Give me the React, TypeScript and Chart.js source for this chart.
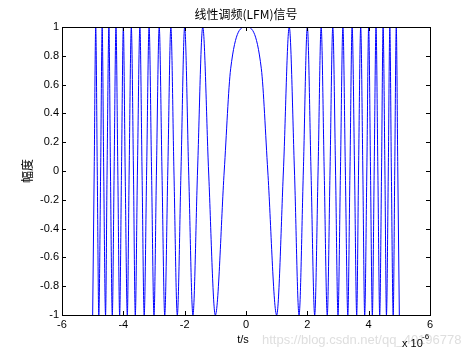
import React, { useEffect, useRef } from "react";
import { Chart, registerables } from "chart.js";

Chart.register(...registerables);

// time in units of 1e-6 s : extrema, zero crossings and a few shoulder points
const timeUs: number[] = [
  -5, -4.95, -4.9, -4.85, -4.8, -4.74, -4.69, -4.64, -4.58, -4.53,
  -4.47, -4.42, -4.36, -4.3, -4.24, -4.18, -4.12, -4.06, -4, -3.94,
  -3.87, -3.81, -3.74, -3.67, -3.61, -3.54, -3.46, -3.39, -3.32, -3.24,
  -3.16, -3.08, -3, -2.92, -2.83, -2.74, -2.65, -2.55, -2.45, -2.35,
  -2.24, -2.12, -2, -1.87, -1.73, -1.58, -1.41, -1.22, -1, -0.71,
  -0.5, 0, 0.5,
  0.71, 1, 1.22, 1.41, 1.58, 1.73, 1.87, 2, 2.12, 2.24,
  2.35, 2.45, 2.55, 2.65, 2.74, 2.83, 2.92, 3, 3.08, 3.16,
  3.24, 3.32, 3.39, 3.46, 3.54, 3.61, 3.67, 3.74, 3.81, 3.87,
  3.94, 4, 4.06, 4.12, 4.18, 4.24, 4.3, 4.36, 4.42, 4.47,
  4.53, 4.58, 4.64, 4.69, 4.74, 4.8, 4.85, 4.9, 4.95, 5,
];

const amplitude: number[] = [
  -1, 0, 1, 0, -1, 0, 1, 0, -1, 0,
  1, 0, -1, 0, 1, 0, -1, 0, 1, 0,
  -1, 0, 1, 0, -1, 0, 1, 0, -1, 0,
  1, 0, -1, 0, 1, 0, -1, 0, 1, 0,
  -1, 0, 1, 0, -1, 0, 1, 0, -1, 0,
  0.71, 1, 0.71,
  0, -1, 0, 1, 0, -1, 0, 1, 0, -1,
  0, 1, 0, -1, 0, 1, 0, -1, 0, 1,
  0, -1, 0, 1, 0, -1, 0, 1, 0, -1,
  0, 1, 0, -1, 0, 1, 0, -1, 0, 1,
  0, -1, 0, 1, 0, -1, 0, 1, 0, -1,
];

const xTicks: number[] = [-6, -4, -2, 0, 2, 4, 6];
const yTicks: number[] = [-1, -0.8, -0.6, -0.4, -0.2, 0, 0.2, 0.4, 0.6, 0.8, 1];

const titleText = "线性调频(LFM)信号";
const yLabelText = "幅度";
const xLabelText = "t/s";
const watermarkText = "https://blog.csdn.net/qq_40196778";

const LATIN = "'Liberation Sans', Arial, sans-serif";
const CJK = "'Noto Sans CJK SC', 'Liberation Sans', sans-serif";

const decorPlugin = {
  id: "matlabDecor",
  afterDraw(chart: any) {
    const ctx = chart.ctx as CanvasRenderingContext2D;
    const { left, right, top, bottom } = chart.chartArea;
    const xs = chart.scales.x;
    const ys = chart.scales.y;
    ctx.save();
    ctx.strokeStyle = "#000000";
    ctx.lineWidth = 1;
    // box
    ctx.strokeRect(Math.round(left) + 0.5, Math.round(top) + 0.5, Math.round(right - left), Math.round(bottom - top));
    const tl = 4;
    ctx.beginPath();
    xTicks.forEach((v) => {
      const px = Math.round(xs.getPixelForValue(v)) + 0.5;
      ctx.moveTo(px, bottom);
      ctx.lineTo(px, bottom - tl);
      ctx.moveTo(px, top);
      ctx.lineTo(px, top + tl);
    });
    yTicks.forEach((v) => {
      const py = Math.round(ys.getPixelForValue(v)) + 0.5;
      ctx.moveTo(left, py);
      ctx.lineTo(left + tl, py);
      ctx.moveTo(right, py);
      ctx.lineTo(right - tl, py);
    });
    ctx.stroke();

    const cx = (left + right) / 2;
    ctx.fillStyle = "#000000";
    ctx.textAlign = "center";
    ctx.textBaseline = "middle";
    ctx.font = `12px ${CJK}`;
    ctx.fillText(titleText, cx, 14);

    ctx.save();
    ctx.translate(27, (top + bottom) / 2);
    ctx.rotate(-Math.PI / 2);
    ctx.font = `12px ${CJK}`;
    ctx.fillText(yLabelText, 0, 0);
    ctx.restore();

    // watermark
    ctx.font = `13px ${LATIN}`;
    ctx.fillStyle = "rgba(200,200,200,0.6)";
    ctx.textAlign = "left";
    ctx.fillText(watermarkText, 262, 340);

    ctx.fillStyle = "#000000";
    ctx.textAlign = "center";
    ctx.font = `11px ${LATIN}`;
    ctx.fillText(xLabelText, 243, 340);

    ctx.textAlign = "left";
    ctx.fillText("x 10", 402, 344);
    ctx.font = `8px ${LATIN}`;
    ctx.fillText("-6", 422, 337);
    ctx.restore();
  },
};

export default function App() {
  const canvasRef = useRef<HTMLCanvasElement | null>(null);

  useEffect(() => {
    if (!canvasRef.current) return;
    const points = timeUs.map((t, i) => ({ x: t, y: amplitude[i] }));
    const chart = new Chart(canvasRef.current, {
      type: "line",
      data: {
        datasets: [
          {
            data: points,
            borderColor: "#0000ff",
            borderWidth: 1,
            pointRadius: 0,
            fill: false,
            cubicInterpolationMode: "monotone",
          },
        ],
      },
      options: {
        responsive: false,
        animation: false,
        events: [],
        layout: { padding: { top: 27, right: 44, left: 0, bottom: 0 } },
        plugins: {
          legend: { display: false },
          title: { display: false },
          tooltip: { enabled: false },
        },
        scales: {
          x: {
            type: "linear",
            min: -6,
            max: 6,
            border: { display: false },
            grid: { display: false, drawTicks: false },
            afterBuildTicks: (s: any) => {
              s.ticks = xTicks.map((v) => ({ value: v }));
            },
            afterFit: (s: any) => {
              s.height = 39;
            },
            ticks: {
              padding: 3,
              maxRotation: 0,
              autoSkip: false,
              color: "#000000",
              font: { family: LATIN, size: 11 },
              callback: (v: any) => String(v),
            },
          },
          y: {
            type: "linear",
            min: -1,
            max: 1,
            border: { display: false },
            grid: { display: false, drawTicks: false },
            afterBuildTicks: (s: any) => {
              s.ticks = yTicks.map((v) => ({ value: v }));
            },
            afterFit: (s: any) => {
              s.width = 62;
            },
            ticks: {
              padding: 3,
              autoSkip: false,
              color: "#000000",
              font: { family: LATIN, size: 11 },
              callback: (v: any) => String(Math.round(Number(v) * 10) / 10),
            },
          },
        },
      },
      plugins: [decorPlugin],
    });
    return () => chart.destroy();
  }, []);

  return (
    <div style={{ position: "absolute", left: 0, top: 0, width: 474, height: 354, background: "#ffffff" }}>
      <canvas ref={canvasRef} width={474} height={354} style={{ display: "block" }} />
    </div>
  );
}
